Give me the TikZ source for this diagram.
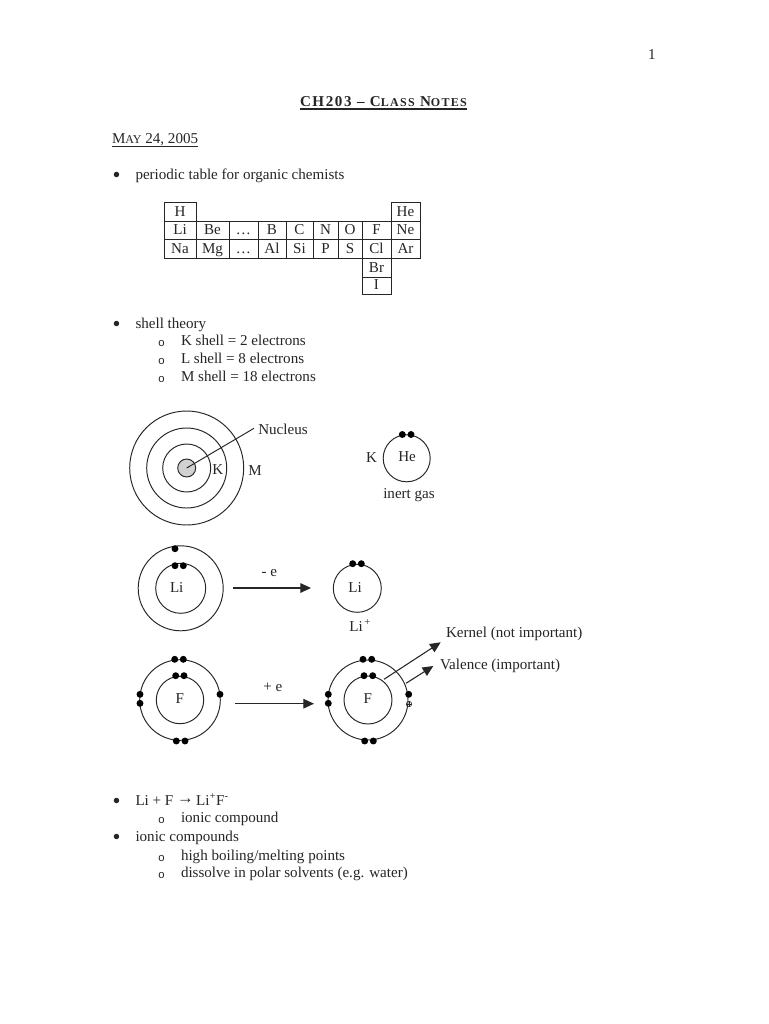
\documentclass[tikz,border=0pt]{standalone}
\usepackage{fontspec}
\usetikzlibrary{arrows.meta}
\setmainfont{Liberation Serif}
\setmonofont{Liberation Mono}
\newfontfamily\titlefont[LetterSpace=10.7]{Liberation Serif}
\definecolor{ink}{HTML}{262626}
\tikzset{
  txt/.style={anchor=base west,inner sep=0pt,outer sep=0pt,text=ink,font=\fontsize{11.3}{13}\selectfont},
  ctxt/.style={anchor=base,inner sep=0pt,outer sep=0pt,text=ink,font=\fontsize{11.3}{13}\selectfont},
  shell/.style={draw=ink,line width=0.72pt},
  gridline/.style={draw=ink,line width=0.72pt},
  arrowline/.style={draw=ink,line width=0.8pt,-{Triangle[length=8pt,width=7.2pt]}},
  electron/.style={fill=black,draw=none}
}
\newcommand{\txtat}[4]{\node[txt] (#1) at (#2,#3) {#4};}
\newcommand{\cellbox}[6]{%
  \draw[gridline] (#2,#3) rectangle (#4,#5);
  \node[ctxt] (#1) at ({(#2+#4)/2},{#5-4.8}) {#6};}
\newcommand{\edot}[2]{\fill[electron] (#1,#2) circle (2.6pt);}
\begin{document}
\begin{tikzpicture}[x=0.75pt,y=-0.75pt]
\useasboundingbox (0,0) rectangle (768,1024);
\fill[white] (0,0) rectangle (768,1024);

\txtat{pagenum}{648}{60}{1}
\node[txt,font=\titlefont\fontsize{11.3}{13}\selectfont\bfseries] (title) at (300,106.5) {CH203 – C{\fontsize{9}{11}\selectfont LASS} N{\fontsize{9}{11}\selectfont OTES}};
\draw[ink,line width=1.1pt] ([yshift=-2pt]title.base west) -- ([yshift=-2pt]title.base east);
\node[txt] (date) at (112,143.5) {M{\fontsize{9}{11}\selectfont AY} 24, 2005};
\draw[ink,line width=0.6pt] ([yshift=-2pt]date.base west) -- ([yshift=-2pt]date.base east);

% bullets
\newcommand{\bul}[2]{\node[ctxt,font=\fontsize{17}{17}\selectfont] (b#2) at (116.5,#2+3) {•}; \node[txt] (t#2) at (135.5,#2) {#1};}
\newcommand{\sub}[2]{\node[ctxt,font=\ttfamily\fontsize{8.5}{10}\selectfont] (o#2) at (161.5,#2+1) {o}; \node[txt] (t#2) at (181,#2) {#1};}
\bul{periodic table for organic chemists}{179.5}
\bul{shell theory}{328}
\sub{K shell = 2 electrons}{345.5}
\sub{L shell = 8 electrons}{363}
\sub{M shell = 18 electrons}{381}
\bul{Li + F \raisebox{1.2pt}{\bfseries\fontsize{12.5}{13}\selectfont →}\hspace{-1pt} Li\textsuperscript{+}F\textsuperscript{-}}{805}
\sub{ionic compound}{822}
\bul{ionic compounds}{841.5}
\sub{high boiling/melting points}{860}
\sub{dissolve in polar solvents (e.g. water)}{877.5}

% table
\cellbox{H}{164}{202}{196}{221}{H}
\cellbox{He}{391}{202}{420}{221}{He}
\cellbox{Li}{164}{221}{196}{239}{Li}
\cellbox{Be}{196}{221}{229}{239}{Be}
\cellbox{dA}{229}{221}{258}{239}{…}
\cellbox{B}{258}{221}{286}{239}{B}
\cellbox{C}{286}{221}{313}{239}{C}
\cellbox{N}{313}{221}{338}{239}{N}
\cellbox{O}{338}{221}{362}{239}{O}
\cellbox{F}{362}{221}{391}{239}{F}
\cellbox{Ne}{391}{221}{420}{239}{Ne}
\cellbox{Na}{164}{239}{196}{258}{Na}
\cellbox{Mg}{196}{239}{229}{258}{Mg}
\cellbox{dB}{229}{239}{258}{258}{…}
\cellbox{Al}{258}{239}{286}{258}{Al}
\cellbox{Si}{286}{239}{313}{258}{Si}
\cellbox{P}{313}{239}{338}{258}{P}
\cellbox{S}{338}{239}{362}{258}{S}
\cellbox{Cl}{362}{239}{391}{258}{Cl}
\cellbox{Ar}{391}{239}{420}{258}{Ar}
\cellbox{Br}{362}{258}{391}{277}{Br}
\cellbox{I}{362}{277}{391}{294}{I}

% shell diagram
\draw[shell] (186.7,468) circle (24*0.75pt);
\draw[shell] (186.7,468) circle (40*0.75pt);
\draw[shell] (186.7,468) circle (57*0.75pt);
\node[circle,draw=ink,fill=black!18,line width=0.72pt,minimum size=13.5pt,inner sep=0pt] (nucleus) at (186.7,468) {};
\coordinate (nucend) at (254,428.3);
\draw[shell] (nucleus.center) -- (nucend);
\txtat{nuclabel}{258.3}{434.3}{Nucleus}
\txtat{klabel}{212.3}{474.5}{K}
\txtat{mlabel}{248.3}{475}{M}

% He
\draw[shell] (406.7,458.3) circle (23.5*0.75pt);
\edot{402.3}{434.5}\edot{411}{434.5}
\txtat{helabel}{398.3}{461.7}{He}
\txtat{hek}{366}{462.7}{K}
\txtat{inert}{383.3}{498.3}{inert gas}

% Li
\draw[shell] (180.7,588.3) circle (25*0.75pt);
\draw[shell] (180.7,588.3) circle (42.5*0.75pt);
\edot{175}{565.7}\edot{183.3}{565.7}\edot{175}{548.7}
\txtat{lilabel}{170}{592.3}{Li}
\coordinate (minusA) at (232.7,588);
\coordinate (minusB) at (311,588);
\draw[arrowline] (minusA) -- (minusB);
\txtat{minuse}{261.7}{576}{- e}
\draw[shell] (357.3,588.3) circle (24*0.75pt);
\edot{352.7}{563.7}\edot{361.3}{563.7}
\txtat{liplabel}{348.3}{592.3}{Li}
\txtat{liion}{349.3}{631}{Li\textsuperscript{\,+}}

% F left
\draw[shell] (180,700) circle (23.7*0.75pt);
\draw[shell] (180,700) circle (40.3*0.75pt);
\edot{174.7}{659.3}\edot{183.3}{659.3}
\edot{175.7}{675.7}\edot{184}{675.7}
\edot{140}{694.3}\edot{140}{703.3}
\edot{220}{694.3}
\edot{176.3}{741}\edot{185}{741}
\txtat{fleft}{175.7}{703.3}{F}
\coordinate (plusA) at (235,703.7);
\coordinate (plusB) at (314,703.7);
\draw[arrowline] (plusA) -- (plusB);
\txtat{pluse}{263.3}{691.3}{+ e}

% F right
\draw[shell] (368,700) circle (24*0.75pt);
\draw[shell] (368,700) circle (40*0.75pt);
\edot{363}{659.3}\edot{371.7}{659.3}
\edot{364}{675.7}\edot{372.7}{675.7}
\edot{328.3}{694.3}\edot{328.3}{703.3}
\edot{408.7}{694.3}
\edot{364.7}{741}\edot{373.3}{741}
\draw[ink,line width=0.45pt] (409,704) circle (2.7*0.75pt);
\draw[ink,line width=0.45pt] (406.3,704) -- (411.7,704) (409,701.3) -- (409,706.7);
\txtat{fright}{363.7}{703.3}{F}
\coordinate (kernA) at (384,679.3);
\coordinate (kernB) at (440.7,642.3);
\draw[arrowline] (kernA) -- (kernB);
\coordinate (valA) at (406,683.3);
\coordinate (valB) at (433.3,666);
\draw[arrowline] (valA) -- (valB);
\txtat{kernel}{446}{637.7}{Kernel (not important)}
\txtat{valence}{440}{669.3}{Valence (important)}
\end{tikzpicture}
\end{document}
